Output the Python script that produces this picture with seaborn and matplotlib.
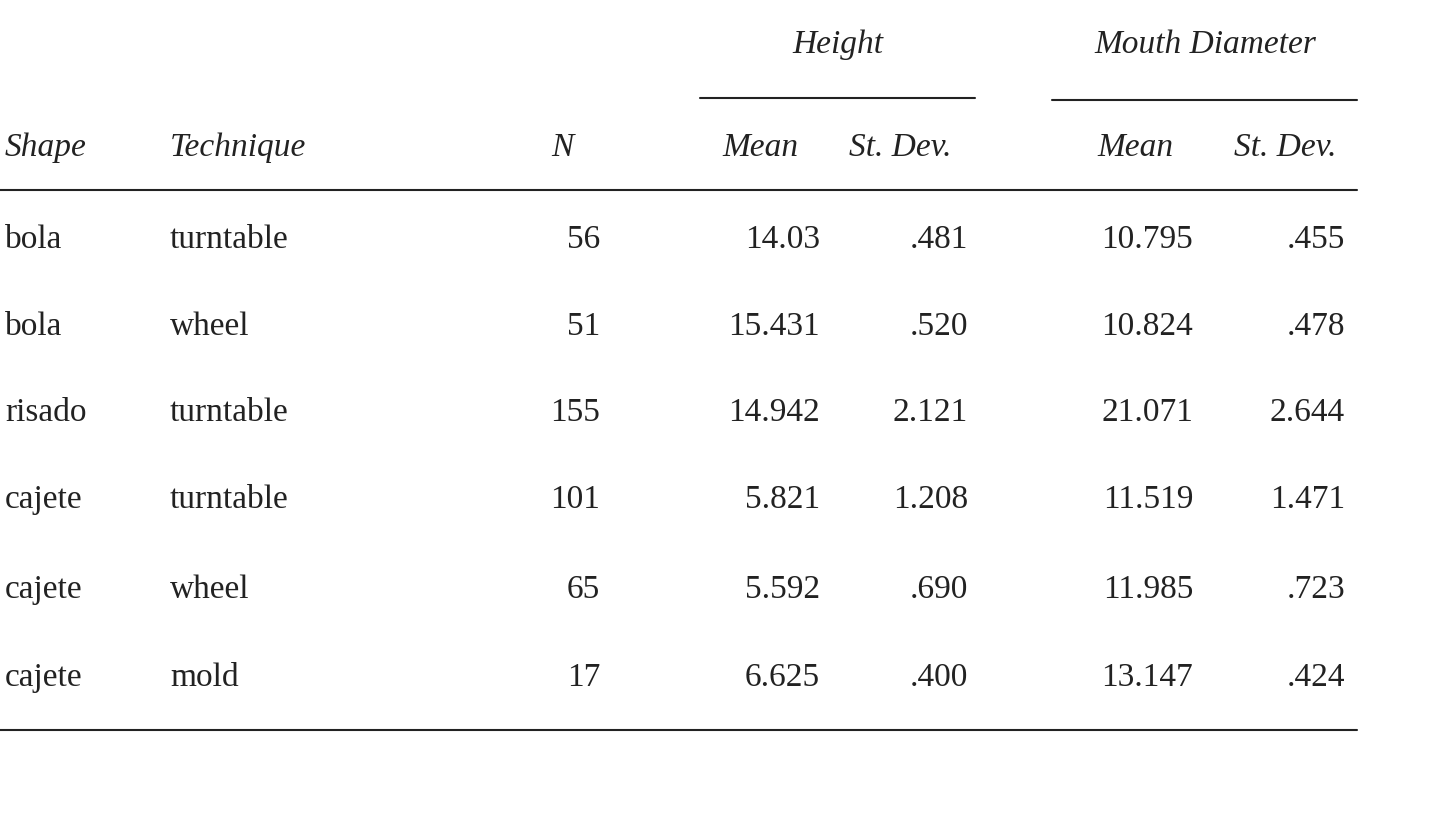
import matplotlib
matplotlib.use("Agg")
import matplotlib.pyplot as plt
import seaborn as sns

shapes = ["bola", "bola", "risado", "cajete", "cajete", "cajete"]
techniques = ["turntable", "wheel", "turntable", "turntable", "wheel", "mold"]
n_vals = ["56", "51", "155", "101", "65", "17"]
height_mean = ["14.03", "15.431", "14.942", "5.821", "5.592", "6.625"]
height_sd = [".481", ".520", "2.121", "1.208", ".690", ".400"]
mouth_mean = ["10.795", "10.824", "21.071", "11.519", "11.985", "13.147"]
mouth_sd = [".455", ".478", "2.644", "1.471", ".723", ".424"]

sns.set_theme(style="white")
plt.rcParams['font.family'] = ['Liberation Serif', 'DejaVu Serif']

fig = plt.figure(figsize=(14.45, 8.14), dpi=100)
ax = fig.add_axes([0, 0, 1, 1])
ax.set_xlim(0, 1445)
ax.set_ylim(814, 0)
ax.axis("off")

fs = 24
col = "#222222"
ax.text(838, 45, "Height", ha="center", va="center", fontsize=fs, style="italic", color=col)
ax.text(1205, 45, "Mouth Diameter", ha="center", va="center", fontsize=fs, style="italic", color=col)
ax.plot([700, 975], [98, 98], color=col, lw=1.5)
ax.plot([1052, 1357], [100, 100], color=col, lw=1.5)

hy = 148
ax.text(5, hy, "Shape", ha="left", va="center", fontsize=fs, style="italic", color=col)
ax.text(170, hy, "Technique", ha="left", va="center", fontsize=fs, style="italic", color=col)
ax.text(562, hy, "N", ha="center", va="center", fontsize=fs, style="italic", color=col)
ax.text(760, hy, "Mean", ha="center", va="center", fontsize=fs, style="italic", color=col)
ax.text(900, hy, "St. Dev.", ha="center", va="center", fontsize=fs, style="italic", color=col)
ax.text(1135, hy, "Mean", ha="center", va="center", fontsize=fs, style="italic", color=col)
ax.text(1285, hy, "St. Dev.", ha="center", va="center", fontsize=fs, style="italic", color=col)
ax.plot([0, 1357], [190, 190], color=col, lw=1.5)

row_y = [240, 327, 413, 500, 590, 678]
for i, y in enumerate(row_y):
    ax.text(5, y, shapes[i], ha="left", va="center", fontsize=fs, color=col)
    ax.text(170, y, techniques[i], ha="left", va="center", fontsize=fs, color=col)
    ax.text(600, y, n_vals[i], ha="right", va="center", fontsize=fs, color=col)
    ax.text(820, y, height_mean[i], ha="right", va="center", fontsize=fs, color=col)
    ax.text(968, y, height_sd[i], ha="right", va="center", fontsize=fs, color=col)
    ax.text(1193, y, mouth_mean[i], ha="right", va="center", fontsize=fs, color=col)
    ax.text(1345, y, mouth_sd[i], ha="right", va="center", fontsize=fs, color=col)
ax.plot([0, 1357], [730, 730], color=col, lw=1.5)

fig.savefig("out.png", dpi=100, facecolor="white")
